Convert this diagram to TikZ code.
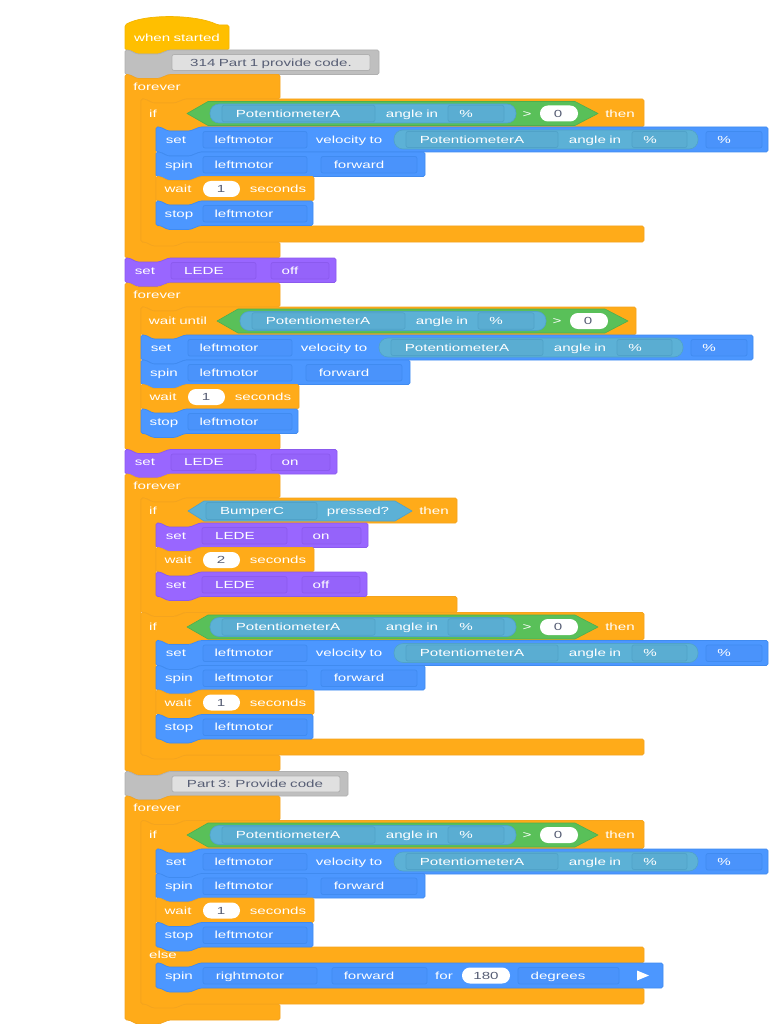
\documentclass[tikz,border=0pt]{standalone}
\usepackage{fontspec}
\setmainfont[FakeStretch=1.47,WordSpace=0.8]{Liberation Sans}
\definecolor{orA}{HTML}{FFAB19}\definecolor{orB}{HTML}{F4A41E}
\definecolor{yeA}{HTML}{FFBF00}\definecolor{yeB}{HTML}{F4B600}
\definecolor{blA}{HTML}{4C97FF}\definecolor{blB}{HTML}{408BF0}\definecolor{blC}{HTML}{4A93FB}
\definecolor{puA}{HTML}{9966FF}\definecolor{puB}{HTML}{8B5AEE}\definecolor{puC}{HTML}{9563FA}
\definecolor{grA}{HTML}{BFBFBF}\definecolor{grB}{HTML}{B0B0B0}\definecolor{grC}{HTML}{E0E0E0}
\definecolor{geA}{HTML}{59C059}\definecolor{geB}{HTML}{4CAF50}
\definecolor{teA}{HTML}{5CB1D6}\definecolor{teB}{HTML}{50A2C8}\definecolor{teC}{HTML}{5AADD2}
\definecolor{dk}{HTML}{575E75}
\newcount\nc
\tikzset{
  blockline/.style={line width=.7pt,rounded corners=1.6pt,line join=round},
  txt/.style={inner sep=0pt,yshift=-.8pt,font=\fontsize{10.3}{12}\selectfont,text=white,text height=7.5pt,text depth=2pt,anchor=center},
  dtxt/.style={txt,text=dk},
  fieldbox/.style={line width=.7pt,rounded corners=2pt},
  pill/.style={fill=white,draw=none,rounded corners=7.9pt}
}
% text
\newcommand{\lbl}[4][txt]{\global\advance\nc by 1\relax\node[#1] (t\the\nc) at (#2,#3) {#4};}
% stack block: x, y, right, bottom, fill, line
\newcommand{\blk}[6]{\path[blockline,fill=#5,draw=#6]
  (#1,#2)--(#1+4,#2)--(#1+12,#2+4)--(#1+34,#2+4)--(#1+44,#2)--(#3,#2)--(#3,#4)
  --(#1+44,#4)--(#1+34,#4+4)--(#1+12,#4+4)--(#1+4,#4)--(#1,#4)--cycle;}
% C block: x, y, header right, header bottom, foot top, foot right, bottom, arm
\newcommand{\cblk}[8]{\path[blockline,fill=orA,draw=orB]
  (#1,#2)--(#1+4,#2)--(#1+12,#2+4)--(#1+34,#2+4)--(#1+44,#2)--(#3,#2)--(#3,#4)
  --(#1+#8+44,#4)--(#1+#8+34,#4+4)--(#1+#8+12,#4+4)--(#1+#8+4,#4)--(#1+#8,#4)
  --(#1+#8,#5)--(#6,#5)--(#6,#7)
  --(#1+44,#7)--(#1+34,#7+4)--(#1+12,#7+4)--(#1+4,#7)--(#1,#7)--cycle;}
\newcommand{\fld}[6]{\path[fieldbox,fill=#5,draw=#6] (#1,#2) rectangle (#3,#4);}
\newcommand{\bfld}[3]{\fld{#1}{#3+4.5}{#2}{#3+21}{blC}{blB}}
% rows
\newcommand{\setrow}[2]{\blk{#1}{#2}{#1+612}{#2+25}{blA}{blB}
  \lbl{#1+20}{#2+12.5}{set}\bfld{#1+47}{#1+151}{#2}\lbl{#1+88}{#2+12.5}{leftmotor}
  \lbl{#1+193}{#2+12.5}{velocity to}
  \path[fill=teA,draw=teB,line width=.6pt,rounded corners=9pt] (#1+238,#2+3)rectangle(#1+542,#2+22);
  \fld{#1+250}{#2+4.5}{#1+402}{#2+20.5}{teC}{teB}\lbl{#1+316}{#2+12.5}{PotentiometerA}
  \lbl{#1+439}{#2+12.5}{angle in}
  \fld{#1+476}{#2+4.5}{#1+531}{#2+20.5}{teC}{teB}\lbl{#1+494}{#2+12.5}{\%}
  \bfld{#1+550}{#1+606}{#2}\lbl{#1+568}{#2+12.5}{\%}}
\newcommand{\spinrow}[2]{\blk{#1}{#2}{#1+269}{#2+24.5}{blA}{blB}
  \lbl{#1+23}{#2+12.5}{spin}\bfld{#1+47}{#1+151}{#2}\lbl{#1+88}{#2+12.5}{leftmotor}
  \bfld{#1+165}{#1+261}{#2}\lbl{#1+203}{#2+12.5}{forward}}
\newcommand{\waitrow}[3]{\blk{#1}{#2}{#1+158}{#2+24.5}{orA}{orB}
  \lbl{#1+22}{#2+12.5}{wait}\path[pill] (#1+47,#2+4.5)rectangle(#1+84,#2+20.5);
  \lbl[dtxt]{#1+65}{#2+12.5}{#3}\lbl{#1+122}{#2+12.5}{seconds}}
\newcommand{\stoprow}[2]{\blk{#1}{#2}{#1+157}{#2+24.5}{blA}{blB}
  \lbl{#1+23}{#2+12.5}{stop}\bfld{#1+47}{#1+151}{#2}\lbl{#1+88}{#2+12.5}{leftmotor}}
\newcommand{\ledrow}[4]{\blk{#1}{#2}{#1+#4}{#2+24.5}{puA}{puB}
  \lbl{#1+20}{#2+12.5}{set}\fld{#1+46}{#2+4.5}{#1+131}{#2+21}{puC}{puB}\lbl{#1+79}{#2+12.5}{LEDE}
  \fld{#1+146}{#2+4.5}{#1+#4-7}{#2+21}{puC}{puB}\lbl{#1+165}{#2+12.5}{#3}}
% condition: shift s, centre y
\newcommand{\cond}[2]{\path[fill=geA,draw=geB,line width=.6pt,line join=round]
  (187+#1,#2)--(208+#1,#2-12)--(575+#1,#2-12)--(598+#1,#2)--(575+#1,#2+12)--(208+#1,#2+12)--cycle;
  \path[fill=teA,draw=teB,line width=.6pt,rounded corners=9pt] (210+#1,#2-9.5)rectangle(516+#1,#2+9.5);
  \fld{222+#1}{#2-8.2}{375+#1}{#2+8.2}{teC}{teB}\lbl{288+#1}{#2}{PotentiometerA}
  \lbl{412+#1}{#2}{angle in}
  \fld{448+#1}{#2-8.2}{504+#1}{#2+8.2}{teC}{teB}\lbl{466+#1}{#2}{\%}
  \lbl{527+#1}{#2}{>}\path[pill] (540+#1,#2-8)rectangle(578+#1,#2+8);
  \lbl[dtxt]{558+#1}{#2}{0}}
\begin{document}
\begin{tikzpicture}[x=1pt,y=-1pt]
\useasboundingbox[fill=white] (0,0) rectangle (768,1024);
% --- hat
\path[blockline,fill=yeA,draw=yeB] (125,50)--(125,25) .. controls (143,14) and (195,14) .. (218,25)--(229,25)--(229,50)
  --(169,50)--(159,54)--(137,54)--(129,50)--cycle;
\lbl{177}{38}{when started}
% --- comment 1
\blk{125}{50}{379}{74.5}{grA}{grB}
\path[fieldbox,fill=grC,draw=grB] (172,54.5)rectangle(370,70.5);
\lbl[dtxt]{271}{62.5}{314 Part 1 provide code.}
% --- forever 1
\cblk{125}{74.5}{280}{99}{242}{280}{258}{16}
\lbl{157}{87}{forever}
\cblk{141}{99}{644}{127}{226}{644}{242}{15}
\cond{0}{113.5}\lbl{153}{113.5}{if}\lbl{620}{113.5}{then}
\setrow{156}{127}
\spinrow{156}{152}
\waitrow{156}{176.5}{1}
\stoprow{156}{201}
% --- set LEDE off
\ledrow{125}{258}{off}{211}
% --- forever 2
\cblk{125}{283}{280}{307}{433.5}{280}{449.5}{16}
\lbl{157}{295}{forever}
\blk{141}{307}{636}{335}{orA}{orB}
\lbl{178}{321}{wait until}\cond{30}{321}
\setrow{141}{335}
\spinrow{141}{360}
\waitrow{141}{384.5}{1}
\stoprow{141}{409}
% --- set LEDE on
\ledrow{125}{449.5}{on}{212}
% --- forever 3
\cblk{125}{474}{280}{498}{755}{280}{771}{16}
\lbl{157}{486}{forever}
\cblk{141}{498}{457}{523}{596.5}{457}{612.5}{15}
\lbl{153}{511}{if}
\path[fill=teA,draw=teB,line width=.6pt,line join=round] (188,511)--(204,501)--(395,501)--(412,511)--(395,521)--(204,521)--cycle;
\fld{206}{502.5}{317}{519.5}{teC}{teB}\lbl{252}{511}{BumperC}
\lbl{358}{511}{pressed?}\lbl{434}{511}{then}
\ledrow{156}{523}{on}{212}
\waitrow{156}{547.5}{2}
\ledrow{156}{572}{off}{211}
\cblk{141}{612.5}{644}{640}{739}{644}{755}{15}
\cond{0}{627}\lbl{153}{627}{if}\lbl{620}{627}{then}
\setrow{156}{640.5}
\spinrow{156}{665.5}
\waitrow{156}{690}{1}
\stoprow{156}{714.5}
% --- comment 2
\blk{125}{771.5}{348}{796}{grA}{grB}
\path[fieldbox,fill=grC,draw=grB] (172,776)rectangle(340,792);
\lbl[dtxt]{255}{784}{Part 3: Provide code}
% --- forever 4
\cblk{125}{796}{280}{820.5}{1004}{280}{1020}{16}
\lbl{157}{808}{forever}
\path[blockline,fill=orA,draw=orB]
  (141,820.5)--(145,820.5)--(153,824.5)--(175,824.5)--(185,820.5)--(644,820.5)--(644,848.5)
  --(200,848.5)--(190,852.5)--(168,852.5)--(160,848.5)--(156,848.5)--(156,947)--(644,947)--(644,963)
  --(200,963)--(190,967)--(168,967)--(160,963)--(156,963)--(156,988)--(644,988)--(644,1004)
  --(185,1004)--(175,1008)--(153,1008)--(145,1004)--(141,1004)--cycle;
\cond{0}{835}\lbl{153}{835}{if}\lbl{620}{835}{then}
\setrow{156}{849}
\spinrow{156}{873.5}
\waitrow{156}{898}{1}
\stoprow{156}{922.5}
\lbl{163}{955}{else}
\blk{156}{963}{663}{988}{blA}{blB}
\lbl{179}{975.5}{spin}
\bfld{203}{317}{963}\lbl{250}{975.5}{rightmotor}
\bfld{332}{427}{963}\lbl{369}{975.5}{forward}
\lbl{444}{975.5}{for}
\path[pill] (462,967.5)rectangle(510,983.5);\lbl[dtxt]{486}{975.5}{180}
\bfld{518}{619}{963}\lbl{558}{975.5}{degrees}
\path[fill=white] (637,970.5)--(649,975.5)--(637,980.5)--cycle;
\end{tikzpicture}
\end{document}
